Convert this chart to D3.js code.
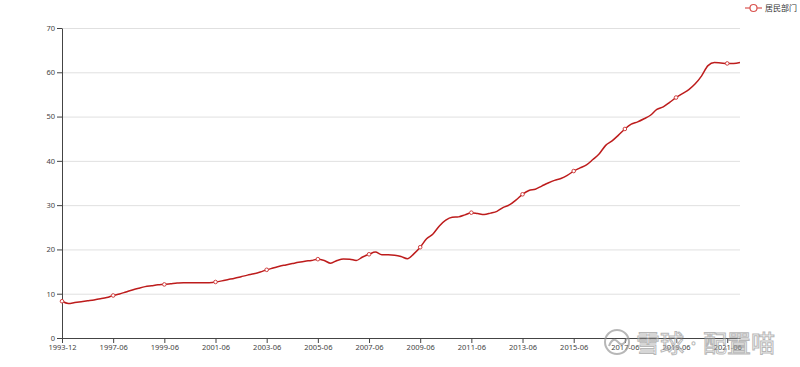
<!DOCTYPE html>
<html>
<head>
<meta charset="utf-8">
<script src="https://cdn.jsdelivr.net/npm/d3@7"></script>
<style>
  body { margin: 0; background: #fff; }
  .viewport text { font-family: "Noto Sans", "Noto Sans CJK SC", sans-serif; }
</style>
</head>
<body>
<div class="viewport"></div>
<script>
// categories: annual at first, then quarterly
var dates = [
    "1993-12", "1994-12", "1995-12", "1996-03", "1996-06", "1996-09", "1996-12", "1997-03",
    "1997-06", "1997-09", "1997-12", "1998-03", "1998-06", "1998-09", "1998-12", "1999-03",
    "1999-06", "1999-09", "1999-12", "2000-03", "2000-06", "2000-09", "2000-12", "2001-03",
    "2001-06", "2001-09", "2001-12", "2002-03", "2002-06", "2002-09", "2002-12", "2003-03",
    "2003-06", "2003-09", "2003-12", "2004-03", "2004-06", "2004-09", "2004-12", "2005-03",
    "2005-06", "2005-09", "2005-12", "2006-03", "2006-06", "2006-09", "2006-12", "2007-03",
    "2007-06", "2007-09", "2007-12", "2008-03", "2008-06", "2008-09", "2008-12", "2009-03",
    "2009-06", "2009-09", "2009-12", "2010-03", "2010-06", "2010-09", "2010-12", "2011-03",
    "2011-06", "2011-09", "2011-12", "2012-03", "2012-06", "2012-09", "2012-12", "2013-03",
    "2013-06", "2013-09", "2013-12", "2014-03", "2014-06", "2014-09", "2014-12", "2015-03",
    "2015-06", "2015-09", "2015-12", "2016-03", "2016-06", "2016-09", "2016-12", "2017-03",
    "2017-06", "2017-09", "2017-12", "2018-03", "2018-06", "2018-09", "2018-12", "2019-03",
    "2019-06", "2019-09", "2019-12", "2020-03", "2020-06", "2020-09", "2020-12", "2021-03",
    "2021-06", "2021-09", "2021-12"
];

// 居民部门 leverage (%)
var household = [
    8.3, 7.8, 8.0, 8.2, 8.4, 8.6, 8.85, 9.15,
    9.6, 9.95, 10.4, 10.85, 11.25, 11.6, 11.8, 12.0,
    12.1, 12.25, 12.4, 12.5, 12.5, 12.45, 12.45, 12.5,
    12.65, 12.9, 13.2, 13.5, 13.85, 14.2, 14.5, 14.9,
    15.4, 15.8, 16.2, 16.5, 16.8, 17.1, 17.35, 17.5,
    17.8, 17.5, 16.9, 17.5, 17.85, 17.8, 17.5, 18.3,
    18.9, 19.4, 18.8, 18.8, 18.7, 18.4, 17.9, 19.0,
    20.5, 22.4, 23.5, 25.3, 26.6, 27.25, 27.35, 27.8,
    28.3, 28.1, 27.9, 28.2, 28.6, 29.5, 30.1, 31.2,
    32.45, 33.3, 33.6, 34.3, 35.0, 35.6, 36.0, 36.7,
    37.7, 38.4, 39.1, 40.3, 41.6, 43.5, 44.5, 45.8,
    47.2, 48.3, 48.8, 49.5, 50.3, 51.6, 52.2, 53.2,
    54.3, 55.2, 56.1, 57.4, 59.2, 61.5, 62.2, 62.1,
    62.0, 62.0, 62.2
];

var yTicks = [0, 10, 20, 30, 40, 50, 60, 70];
var seriesName = "居民部门";
var labelEvery = 8;

function letsGo() {

    var width = 800,
        height = 367,
        left = 62,
        right = 740,
        top = 28,
        bottom = 338,
        red = "#bd1c1c";

    var svg = d3.select(".viewport").append("svg")
        .attr("width", width)
        .attr("height", height);

    var x = d3.scalePoint().domain(dates).range([left, right]);
    var y = d3.scaleLinear().domain([0, 70]).range([bottom, top]);

    var shown = dates.filter(function (d, i) { return i % labelEvery === 0; });

    // grid lines
    var grid = svg.append("g")
        .attr("transform", "translate(" + left + ",0)")
        .call(d3.axisLeft(y).tickValues(yTicks.slice(1)).tickSize(-(right - left)).tickFormat(""));
    grid.select(".domain").remove();
    grid.selectAll("line").attr("stroke", "#e0e0e0");

    // y axis
    var yAxis = svg.append("g")
        .attr("transform", "translate(" + left + ",0)")
        .call(d3.axisLeft(y).tickValues(yTicks).tickSize(5).tickSizeOuter(0).tickPadding(2));
    yAxis.select(".domain").attr("stroke", "#444");
    yAxis.selectAll("line").attr("stroke", "#444");
    yAxis.selectAll("text").attr("font-size", 7.5).attr("fill", "#444");

    // x axis
    var xAxis = svg.append("g")
        .attr("transform", "translate(0," + bottom + ")")
        .call(d3.axisBottom(x).tickValues(shown).tickSize(5).tickSizeOuter(0).tickPadding(2));
    xAxis.select(".domain").attr("stroke", "#444");
    xAxis.selectAll("line").attr("stroke", "#444");
    xAxis.selectAll("text").attr("font-size", 7.5).attr("fill", "#444");

    // the line
    var line = d3.line()
        .x(function (d, i) { return x(dates[i]); })
        .y(function (d) { return y(d); })
        .curve(d3.curveMonotoneX);

    svg.append("path")
        .datum(household)
        .attr("fill", "none")
        .attr("stroke", red)
        .attr("stroke-width", 1.5)
        .attr("d", line);

    svg.selectAll("circle.pt")
        .data(household.filter(function (d, i) { return i % labelEvery === 0; }))
        .enter().append("circle")
        .attr("class", "pt")
        .attr("cx", function (d, i) { return x(dates[i * labelEvery]); })
        .attr("cy", function (d) { return y(d); })
        .attr("r", 1.8)
        .attr("fill", "#fff")
        .attr("stroke", "#d04040")
        .attr("stroke-width", 1);

    // legend
    var lg = svg.append("g").attr("transform", "translate(745,8)");
    lg.append("line")
        .attr("x1", 0).attr("x2", 17)
        .attr("stroke", "#d9534f").attr("stroke-width", 1.2);
    lg.append("circle")
        .attr("cx", 8.5).attr("r", 3.5)
        .attr("fill", "#fff").attr("stroke", "#d9534f").attr("stroke-width", 1.2);
    lg.append("text")
        .attr("x", 20).attr("y", 3)
        .attr("font-size", 8)
        .attr("fill", "#333")
        .text(seriesName);

    // watermark, laid over the axis labels as in the original
    var wm = svg.append("g").attr("opacity", 0.7);
    wm.append("circle")
        .attr("cx", 617).attr("cy", 342).attr("r", 12)
        .attr("fill", "none").attr("stroke", "#999").attr("stroke-width", 2);
    wm.append("path")
        .attr("d", "M609,346 q4,-10 9,-4 q5,6 9,-4")
        .attr("fill", "none").attr("stroke", "#999").attr("stroke-width", 2);
    wm.append("text")
        .attr("x", 636).attr("y", 352)
        .attr("font-family", "Noto Sans CJK SC")
        .attr("font-size", 24)
        .attr("fill", "#fff")
        .attr("fill-opacity", 0.6)
        .attr("stroke", "#9a9a9a")
        .attr("stroke-width", 1)
        .text("雪球 · 配置喵");
}

letsGo();
</script>
</body>
</html>
